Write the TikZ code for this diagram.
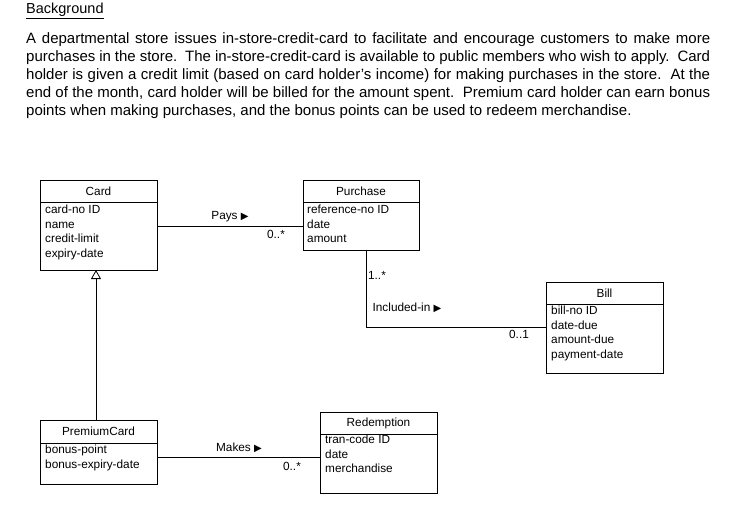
\documentclass[tikz,border=0pt]{standalone}
\usepackage{fontspec}
\setmainfont{Liberation Sans}
\newfontfamily\dejavu{DejaVu Sans}
\usetikzlibrary{arrows.meta}
\begin{document}
\begin{tikzpicture}[x=1pt,y=-1pt,
  box/.style={draw,line width=0.8pt},
  lbl/.style={font=\fontsize{11.8}{14.5}\selectfont,inner sep=0pt},
  ln/.style={line width=0.8pt}]
\useasboundingbox (0,0) rectangle (740,531);
\node[anchor=north west,inner sep=0pt,font=\fontsize{14.5}{16}\selectfont] (bg) at (26,3) {\underline{Background}};
\node[anchor=north west,inner sep=0pt,text width=684pt,align=justify,font=\fontsize{15}{18}\selectfont] (para) at (26,32) {\hyphenpenalty=10000\exhyphenpenalty=10000 A departmental store issues in-store-credit-card to facilitate and encourage customers to make more purchases in the store.\ \ The in-store-credit-card is available to public members who wish to apply.\ \ Card holder is given a credit limit (based on card holder's income) for making purchases in the store.\ \ At the end of the month, card holder will be billed for the amount spent.\ \ Premium card holder can earn bonus points when making purchases, and the bonus points can be used to redeem merchandise.};
% Card
\draw[box] (40,180) rectangle (157,270); \draw[ln] (40,202)--(157,202);
\node[lbl] (card) at (98.5,191) {Card};
\node[lbl,anchor=north west,align=left] (cardattr) at (45,205) {card-no ID\\name\\credit-limit\\expiry-date};
\coordinate (cardR) at (157,226); \coordinate (cardB) at (96,270);
% Purchase
\draw[box] (303,180) rectangle (419,250); \draw[ln] (303,202)--(419,202);
\node[lbl] (purch) at (361,191) {Purchase};
\node[lbl,anchor=north west,align=left] (purattr) at (307,205) {reference-no ID\\date\\amount};
\coordinate (purL) at (303,226); \coordinate (purB) at (366,250);
% Bill
\draw[box] (546,282) rectangle (663,373); \draw[ln] (546,304)--(663,304);
\node[lbl] (bill) at (604.5,293) {Bill};
\node[lbl,anchor=north west,align=left] (billattr) at (551,306) {bill-no ID\\date-due\\amount-due\\payment-date};
\coordinate (billL) at (546,327);
% PremiumCard
\draw[box] (40,420) rectangle (157,484); \draw[ln] (40,443)--(157,443);
\node[lbl] (prem) at (98.5,431.5) {PremiumCard};
\node[lbl,anchor=north west,align=left] (premattr) at (45,445) {bonus-point\\bonus-expiry-date};
\coordinate (premT) at (96,420); \coordinate (premR) at (157,457);
% Redemption
\draw[box] (320,412) rectangle (437,493); \draw[ln] (320,434)--(437,434);
\node[lbl] (red) at (378.5,423) {Redemption};
\node[lbl,anchor=north west,align=left] (redattr) at (325,435) {tran-code ID\\date\\merchandise};
\coordinate (redL) at (320,457);
% connectors
\draw[ln] (cardR)--(purL);
\draw[ln] (purB)|-(billL);
\draw[ln] (premR)--(redL);
\draw[ln,-{Triangle[open,length=9pt,width=10pt]}] (premT)--(cardB);
\node[lbl] (pays) at (230,217) {Pays {\dejavu\fontsize{10}{11}\selectfont ▶}};
\node[lbl] (m1) at (276,234) {0..*};
\node[lbl] (m2) at (377,275) {1..*};
\node[lbl] (inc) at (407,308) {Included-in {\dejavu\fontsize{10}{11}\selectfont ▶}};
\node[lbl] (m3) at (519,334) {0..1};
\node[lbl] (makes) at (239,448) {Makes {\dejavu\fontsize{10}{11}\selectfont ▶}};
\node[lbl] (m4) at (292,466) {0..*};
\end{tikzpicture}
\end{document}
